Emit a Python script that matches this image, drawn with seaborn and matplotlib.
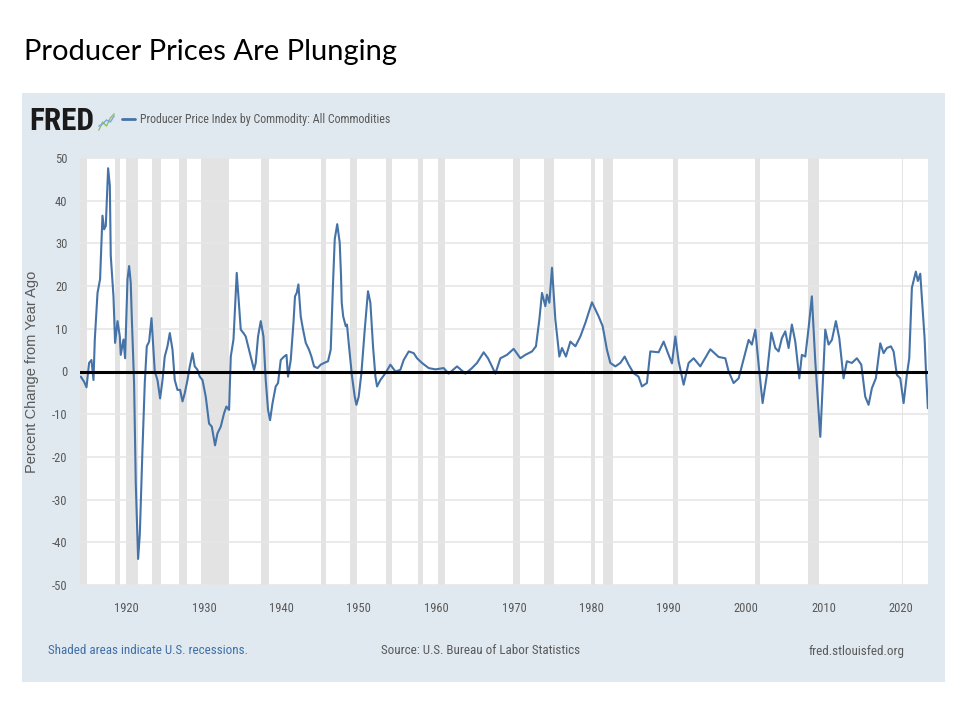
# importar librerías
import pandas as pd
import seaborn as sns
import matplotlib.pyplot as plt
from matplotlib.patches import Rectangle

# datos: año (decimal) y variación anual del índice (%)
anios_1914_1945 = [1914.10, 1914.53, 1914.84, 1915.17, 1915.48, 1915.74, 1915.91, 1916.26, 1916.59, 1916.90,
                   1917.11, 1917.33, 1917.63, 1917.85, 1917.97, 1918.32, 1918.53, 1918.84, 1919.14, 1919.26,
                   1919.61, 1919.82, 1920.13, 1920.34, 1920.55, 1920.68, 1920.98, 1921.20, 1921.50, 1921.72,
                   1922.06, 1922.36, 1922.62, 1922.92, 1923.23, 1923.48, 1923.65, 1924.00, 1924.34, 1924.65,
                   1924.94, 1925.29, 1925.59, 1925.94, 1926.23, 1926.58, 1926.92, 1927.23, 1927.52, 1927.87,
                   1928.17, 1928.52, 1928.81, 1929.16, 1929.46, 1929.81, 1930.23, 1930.66, 1931.01, 1931.43,
                   1931.74, 1932.17, 1932.59, 1932.90, 1933.24, 1933.46, 1933.81, 1934.23, 1934.53, 1934.75,
                   1935.10, 1935.39, 1935.82, 1936.26, 1936.46, 1936.68, 1936.98, 1937.33, 1937.68, 1937.97,
                   1938.27, 1938.53, 1938.84, 1939.26, 1939.56, 1939.91, 1940.34, 1940.65, 1940.85, 1941.20,
                   1941.55, 1941.75, 1941.97, 1942.19, 1942.49, 1942.79, 1943.14, 1943.56, 1943.87, 1944.21,
                   1944.65, 1945.07, 1945.50, 1946.01]
ppi_1914_1945 = [-1.2, -2.4, -3.7, 2.0, 2.7, -2.0, 7.5, 18.4, 21.6, 36.5,
                 33.3, 34.1, 47.6, 43.5, 27.1, 17.6, 6.7, 11.8, 8.2, 3.9,
                 7.5, 3.1, 21.6, 24.7, 20.8, 12.9, -2.7, -26.3, -43.9, -38.1,
                 -18.4, -2.7, 5.9, 7.0, 12.5, 5.1, 0.0, -2.0, -6.3, -2.0,
                 3.5, 5.9, 9.0, 5.1, -2.0, -4.3, -4.3, -7.0, -5.1, -2.0,
                 1.2, 4.3, 1.2, 0.4, -1.2, -2.0, -5.9, -12.2, -12.9, -17.3,
                 -14.5, -12.9, -9.8, -8.2, -9.0, 3.5, 7.5, 23.1, 15.3, 9.8,
                 9.0, 8.2, 5.1, 2.0, 0.4, 2.0, 8.2, 11.8, 8.2, -2.0,
                 -9.0, -11.4, -7.5, -3.5, -2.7, 2.7, 3.5, 3.9, -1.2, 2.7,
                 11.4, 17.6, 18.4, 20.4, 12.9, 9.8, 6.7, 5.1, 3.5, 1.2,
                 0.8, 1.6, 2.0, 2.4]

anios_1946_1985 = [1946.36, 1946.66, 1946.88, 1947.20, 1947.52, 1947.69, 1947.78, 1947.97, 1948.30, 1948.46,
                   1948.68, 1949.11, 1949.46, 1949.68, 1949.97, 1950.32, 1950.75, 1951.17, 1951.48, 1951.82,
                   1952.13, 1952.34, 1952.77, 1953.42, 1954.06, 1954.71, 1955.35, 1955.78, 1956.43, 1957.07,
                   1957.50, 1958.14, 1959.01, 1959.87, 1960.94, 1961.59, 1962.66, 1963.74, 1964.59, 1965.24,
                   1966.10, 1966.66, 1967.17, 1967.61, 1968.26, 1969.11, 1969.97, 1970.84, 1971.48, 1972.34,
                   1972.85, 1973.29, 1973.63, 1974.06, 1974.27, 1974.58, 1974.92, 1975.35, 1975.87, 1976.21,
                   1976.72, 1977.29, 1977.94, 1978.58, 1979.23, 1980.08, 1980.52, 1980.94, 1981.46, 1982.01,
                   1982.45, 1983.10, 1983.74, 1984.30, 1984.81, 1985.46]
ppi_1946_1985 = [5.1, 20.8, 31.0, 34.5, 30.2, 22.4, 16.1, 12.9, 10.6, 11.0,
                 6.7, -1.2, -5.9, -7.8, -5.9, -0.4, 9.8, 18.8, 16.1, 5.9,
                 -1.2, -3.5, -2.0, -0.4, 1.6, 0.0, 0.4, 2.7, 4.7, 4.3,
                 3.1, 2.0, 0.8, 0.5, 0.8, -0.5, 1.2, -0.5, 0.8, 2.0,
                 4.5, 3.1, 1.2, -0.5, 3.1, 3.9, 5.3, 3.1, 3.9, 4.7,
                 5.9, 12.2, 18.4, 15.3, 18.0, 16.1, 24.3, 12.2, 3.5, 5.5,
                 3.5, 7.0, 5.9, 8.2, 11.4, 16.2, 14.5, 12.9, 10.6, 5.1,
                 2.0, 1.2, 2.0, 3.5, 1.6, -0.4]

anios_1986_2023 = [1986.09, 1986.53, 1987.17, 1987.61, 1988.68, 1989.33, 1989.97, 1990.40, 1990.84, 1991.26,
                   1991.91, 1992.55, 1993.20, 1994.06, 1995.35, 1996.43, 1997.29, 1997.72, 1998.36, 1999.01,
                   2000.30, 2000.72, 2001.16, 2001.59, 2002.10, 2002.66, 2003.23, 2003.74, 2004.17, 2004.59,
                   2005.03, 2005.46, 2005.88, 2006.32, 2006.84, 2007.17, 2007.61, 2008.04, 2008.46, 2008.90,
                   2009.55, 2010.19, 2010.62, 2011.05, 2011.56, 2012.00, 2012.55, 2012.98, 2013.63, 2014.27,
                   2014.84, 2015.35, 2015.78, 2016.21, 2016.72, 2017.29, 2017.72, 2018.14, 2018.66, 2019.01,
                   2019.43, 2019.87, 2020.30, 2020.72, 2021.03, 2021.37, 2021.88, 2022.14, 2022.45, 2022.66,
                   2023.01, 2023.17, 2023.43]
ppi_1986_2023 = [-1.2, -3.5, -2.7, 4.7, 4.5, 7.0, 3.9, 1.9, 8.2, 2.4,
                 -3.1, 2.0, 3.1, 1.2, 5.2, 3.4, 3.1, 0.0, -2.7, -1.6,
                 7.4, 6.3, 9.8, 1.6, -7.4, -0.7, 9.1, 5.5, 4.7, 7.8,
                 9.4, 5.5, 11.0, 7.0, -1.6, 3.9, 3.5, 10.2, 17.6, 2.4,
                 -15.3, 9.8, 6.3, 7.4, 11.8, 7.8, -1.6, 2.4, 2.0, 3.1,
                 1.6, -5.9, -7.8, -3.9, -1.6, 6.6, 4.3, 5.5, 5.9, 4.7,
                 -0.8, -1.6, -7.4, -0.8, 3.1, 19.6, 23.4, 21.2, 22.9, 17.3,
                 7.8, 0.8, -8.6]

# recesiones de EE.UU. (inicio y fin, año decimal)
recesion_inicio = [1913.0, 1918.58, 1920.0, 1923.33, 1926.75, 1929.58, 1937.33, 1945.08, 1948.83, 1953.5,
                   1957.58, 1960.25, 1969.92, 1973.83, 1980.0, 1981.5, 1990.5, 2001.17, 2007.92, 2020.08]
recesion_fin = [1914.92, 1919.17, 1921.5, 1924.5, 1927.83, 1933.17, 1938.42, 1945.75, 1949.75, 1954.33,
                1958.25, 1961.08, 1970.83, 1975.17, 1980.5, 1982.83, 1991.17, 2001.83, 2009.42, 2020.25]

ticks_x = [1920, 1930, 1940, 1950, 1960, 1970, 1980, 1990, 2000, 2010, 2020]
ticks_y = [50, 40, 30, 20, 10, 0, -10, -20, -30, -40, -50]

df = pd.DataFrame({
    'anio': anios_1914_1945 + anios_1946_1985 + anios_1986_2023,
    'ppi': ppi_1914_1945 + ppi_1946_1985 + ppi_1986_2023,
})

# estilo
sns.set_theme(style="white")
narrow = ['Roboto Condensed', 'Liberation Sans Narrow', 'Arial Narrow', 'Archivo Narrow',
          'PT Sans Narrow', 'DejaVu Sans']
gris = '#595959'
azul = '#4572a7'

fig = plt.figure(figsize=(9.6, 7.2), dpi=100)
fig.patch.set_facecolor('white')

# panel de fondo estilo FRED
fig.patches.append(Rectangle((22 / 960, 1 - 682 / 720), 923 / 960, 589 / 720,
                             transform=fig.transFigure, facecolor='#e1e9f0',
                             edgecolor='none', zorder=-10))

# título de la diapositiva
fig.text(24 / 960, 1 - 52 / 720, 'Producer Prices Are Plunging', fontsize=21,
         family=['Lato', 'DejaVu Sans'], va='center', ha='left', color='black')

ax = fig.add_axes([80 / 960, 1 - 585 / 720, 848 / 960, 427 / 720])
ax.set_facecolor('white')

# franjas de recesión
for ini, fin in zip(recesion_inicio, recesion_fin):
    ax.axvspan(ini, fin, color='#e3e3e3', lw=0, zorder=0)

for v in ticks_y:
    ax.axhline(v, color='#e6e6e6', lw=1.2, zorder=0.5)

sns.lineplot(data=df, x='anio', y='ppi', color=azul, linewidth=1.5, ax=ax, zorder=3)
ax.axhline(0, color='black', lw=2.2, zorder=4)

ax.set_xlim(1914.0, 2023.45)
ax.set_ylim(-50, 50)
ax.set_xticks(ticks_x)
ax.set_yticks(ticks_y)
ax.set_xticklabels([str(t) for t in ticks_x], family=narrow, fontsize=9, color=gris)
ax.set_yticklabels([str(t) for t in ticks_y], family=narrow, fontsize=9, color=gris)
ax.tick_params(axis='x', length=5, color='#cfd6dd', pad=7)
ax.tick_params(axis='y', length=0, pad=9)
for s in ax.spines.values():
    s.set_visible(False)
ax.set_xlabel('')
ax.set_ylabel('Percent Change from Year Ago', fontsize=10.5, color=gris,
              family=['Liberation Sans', 'DejaVu Sans'], labelpad=9)

# cabecera: logo y leyenda
fig.text(29 / 960, 1 - 121 / 720, 'FRED', fontsize=22.5, fontweight='heavy',
         family=narrow, color='#1a1a1a', va='center', ha='left')
icono = fig.add_axes([98 / 960, 1 - 131 / 720, 17 / 960, 18 / 720])
icono.plot([0, 1, 2, 3, 4], [0, 2, 1, 3, 4], color='#8fbf6a', lw=1)
icono.plot([0, 1, 2, 3, 4], [1, 1.5, 2.5, 2, 3.5], color='#7aa6d6', lw=1)
icono.axis('off')
fig.lines.append(plt.Line2D([122 / 960, 135 / 960], [1 - 119 / 720, 1 - 119 / 720],
                            transform=fig.transFigure, color=azul, lw=2))
fig.text(140 / 960, 1 - 119 / 720, 'Producer Price Index by Commodity: All Commodities',
         fontsize=8.6, family=narrow, color=gris, va='center', ha='left')

# pie
fig.text(48 / 960, 1 - 651 / 720, 'Shaded areas indicate U.S. recessions.', fontsize=9.4,
         family=narrow, color='#3f6fa8', va='center', ha='left')
fig.text(381 / 960, 1 - 651 / 720, 'Source: U.S. Bureau of Labor Statistics', fontsize=9.4,
         family=narrow, color=gris, va='center', ha='left')
fig.text(905 / 960, 1 - 651 / 720, 'fred.stlouisfed.org', fontsize=9.4,
         family=narrow, color=gris, va='center', ha='right')

plt.savefig('out.png', dpi=100, facecolor='white')
